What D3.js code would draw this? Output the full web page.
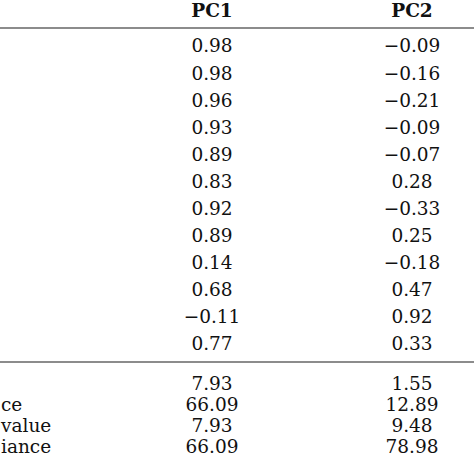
<!DOCTYPE html><html><head><script src="https://cdn.jsdelivr.net/npm/d3@7"></script>
<style>body{margin:0;background:#fff}</style></head><body><svg id="c" width="474" height="474"></svg>
<script>
const headers=["PC1","PC2"];
const pc1=["0.98","0.98","0.96","0.93","0.89","0.83","0.92","0.89","0.14","0.68","\u22120.11","0.77"];
const pc2=["\u22120.09","\u22120.16","\u22120.21","\u22120.09","\u22120.07","0.28","\u22120.33","0.25","\u22120.18","0.47","0.92","0.33"];
const sumLabels=["","ce","value","iance"];
const sum1=["7.93","66.09","7.93","66.09"];
const sum2=["1.55","12.89","9.48","78.98"];
const svg=d3.select("#c");
const font="'DejaVu Serif','Liberation Serif',serif";
const x=d3.scalePoint().domain(headers).range([212,412]);
const yR=d3.scaleLinear().domain([0,11]).range([46,344]);
const yS=d3.scaleLinear().domain([0,3]).range([384,447]);
const t=(xx,yy,s,anchor,bold)=>svg.append("text").attr("x",xx).attr("y",yy).attr("dy","0.35em").attr("text-anchor",anchor).attr("font-family",font).attr("font-size",18.5).attr("font-weight",bold?"bold":"normal").attr("fill","#111").text(s);
headers.forEach(h=>t(x(h),11,h,"middle",true));
svg.append("line").attr("x1",0).attr("x2",474).attr("y1",28).attr("y2",28).attr("stroke","#666").attr("stroke-width",1.5);
svg.append("line").attr("x1",0).attr("x2",474).attr("y1",362).attr("y2",362).attr("stroke","#666").attr("stroke-width",1.5);
pc1.forEach((v,i)=>t(x("PC1"),yR(i),v,"middle"));
pc2.forEach((v,i)=>t(x("PC2"),yR(i),v,"middle"));
sum1.forEach((v,i)=>t(x("PC1"),yS(i),v,"middle"));
sum2.forEach((v,i)=>t(x("PC2"),yS(i),v,"middle"));
sumLabels.forEach((v,i)=>t(1,yS(i),v,"start"));
</script></body></html>
